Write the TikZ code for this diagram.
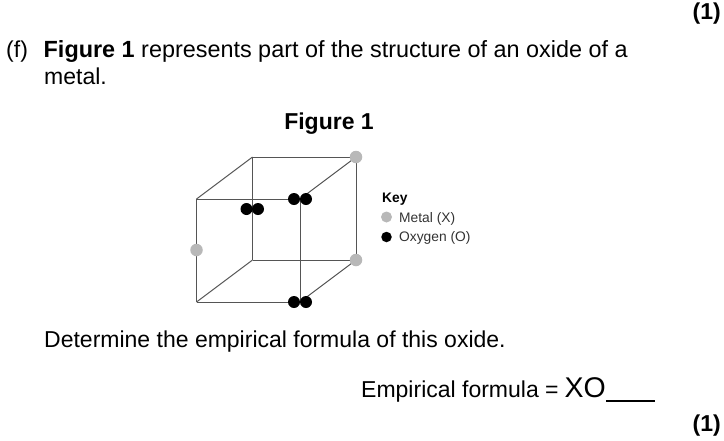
\documentclass[tikz,border=0pt]{standalone}
\usepackage{fontspec}
\setmainfont{Liberation Sans}
\usepackage{xcolor}
\definecolor{metalgray}{RGB}{184,184,184}
\definecolor{edgegray}{RGB}{85,85,85}
\tikzset{
    txt/.style={inner sep=0pt, anchor=base west, font=\fontsize{23}{26}\selectfont},
    txtb/.style={inner sep=0pt, anchor=base east, font=\fontsize{23}{26}\selectfont\bfseries},
    keytxt/.style={inner sep=0pt, anchor=base west, text=black!80, font=\fontsize{13.8}{16}\selectfont},
    metal/.style={circle, fill=metalgray, inner sep=0pt, minimum size=12.5pt},
    oxygen/.style={circle, fill=black, inner sep=0pt, minimum size=12pt},
    edgeline/.style={edgegray, line width=1pt}
}
\begin{document}
\begin{tikzpicture}[x=1pt, y=-1pt]
        \useasboundingbox (0, 0) rectangle (724, 440);

        % question text
        \node[txtb] (markA) at (721, 19) {(1)};
        \node[txt] (part) at (6, 57) {(f)};
        \node[txt, font=\fontsize{23.4}{26}\selectfont] (line1) at (43.5, 57) {\textbf{Figure 1} represents part of the structure of an oxide of a};
        \node[txt] (line2) at (44, 84) {metal.};
        \node[txt, anchor=base, font=\fontsize{23}{26}\selectfont\bfseries] (title) at (329, 129) {Figure 1};

        % cube corners
        \begin{scope}[name prefix=cube-]
            \coordinate (ftl) at (196.5, 199);
            \coordinate (ftr) at (300, 199);
            \coordinate (fbl) at (196.5, 302);
            \coordinate (fbr) at (300, 302);
            \coordinate (btl) at (252.5, 157);
            \coordinate (btr) at (356, 157);
            \coordinate (bbl) at (252.5, 260);
            \coordinate (bbr) at (356, 260);
        \end{scope}

        % edges
        \foreach \a/\b in {ftl/ftr, ftr/fbr, fbr/fbl, fbl/ftl, btl/btr, btr/bbr, bbr/bbl, bbl/btl, ftl/btl, ftr/btr, fbl/bbl, fbr/bbr} {
            \draw[edgeline] (cube-\a) -- (cube-\b);
        }

        % metal atoms
        \node[metal] (m1) at (cube-btr) {};
        \node[metal] (m2) at (cube-bbr) {};
        \node[metal] (m3) at (196.5, 250) {};

        % oxygen atoms
        \node[oxygen] (o1) at (294, 199) {};
        \node[oxygen] (o2) at (306, 199) {};
        \node[oxygen] (o3) at (294, 302) {};
        \node[oxygen] (o4) at (306, 302) {};
        \node[oxygen] (o5) at (246.5, 209) {};
        \node[oxygen] (o6) at (258, 209) {};

        % key
        \node[keytxt, text=black, font=\fontsize{13.8}{16}\selectfont\bfseries] (key) at (382, 202.5) {Key};
        \node[metal, minimum size=11pt] (keym) at (386.5, 217) {};
        \node[oxygen, minimum size=10.5pt] (keyo) at (386.5, 237) {};
        \node[keytxt] (keymt) at (399, 222) {Metal (X)};
        \node[keytxt] (keyot) at (399, 241.5) {Oxygen (O)};

        % answer line
        \node[txt] (det) at (44, 347) {Determine the empirical formula of this oxide.};
        \node[txt] (emp) at (361, 397) {Empirical formula = };
        \node[txt, font=\fontsize{28.5}{32}\selectfont] (xo) at (564.5, 397) {XO};
        \coordinate (blankl) at (606, 401);
        \coordinate (blankr) at (655, 401);
        \draw[black, line width=1.1pt] (blankl) -- (blankr);
        \node[txtb] (markB) at (721, 431) {(1)};
    \end{tikzpicture}
\end{document}
